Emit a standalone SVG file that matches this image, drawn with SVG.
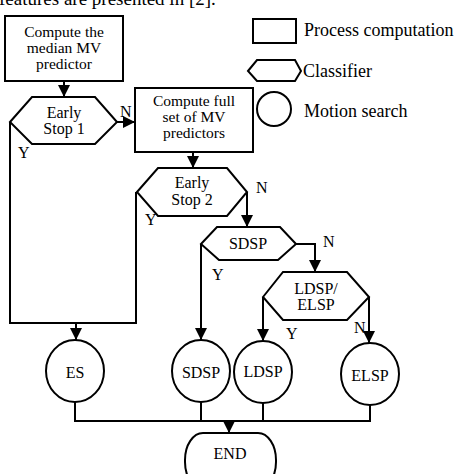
<svg xmlns="http://www.w3.org/2000/svg" width="474" height="474" viewBox="0 0 474 474">
<style>
.s{fill:#fff;stroke:#000;stroke-width:2}
.c{fill:none;stroke:#000;stroke-width:2}
text{font-family:"Liberation Serif","Times New Roman",serif;font-size:16px;fill:#000}
.m{text-anchor:middle}
.b{font-size:15.5px}
.lg{font-size:18px}
</style>
<defs>
<marker id="ah" markerUnits="userSpaceOnUse" markerWidth="12" markerHeight="12" refX="12" refY="6" orient="auto">
<path d="M0,0 L12,6 L0,12 z" fill="#000"/>
</marker>
</defs>
<rect width="474" height="474" fill="#fff"/>
<text x="-1" y="5" style="font-size:19px">features are presented in [2].</text>

<g id="connectors">
<path class="c" d="M64,81 V97" marker-end="url(#ah)"/>
<path class="c" d="M117,122 H135" marker-end="url(#ah)"/>
<path class="c" d="M193,152 V168" marker-end="url(#ah)"/>
<path class="c" d="M10,122 V323 H136 V192"/>
<path class="c" d="M76,323 V340" marker-end="url(#ah)"/>
<path class="c" d="M247,192 V227" marker-end="url(#ah)"/>
<path class="c" d="M201,244 V340" marker-end="url(#ah)"/>
<path class="c" d="M296,244 H315 V272" marker-end="url(#ah)"/>
<path class="c" d="M263,297 V341" marker-end="url(#ah)"/>
<path class="c" d="M369,297 V343" marker-end="url(#ah)"/>
<path class="c" d="M75,402 V421 H370 V405 M201,402 V421 M263,403 V421"/>
<path class="c" d="M229,421 V433" marker-end="url(#ah)"/>
<text x="120" y="117">N</text>
<text x="18" y="158">Y</text>
<text x="145" y="225">Y</text>
<text x="256" y="193">N</text>
<text x="212" y="280">Y</text>
<text x="323" y="247">N</text>
<text x="286" y="339">Y</text>
<text x="354" y="333">N</text>
</g>

<g id="median">
<rect class="s" x="5" y="16" width="118" height="65"/>
<text class="m b" x="64" y="37">Compute the</text>
<text class="m b" x="64" y="53">median MV</text>
<text class="m b" x="64" y="69">predictor</text>
</g>

<g id="es1">
<polygon class="s" points="10,122 32,97 95,97 117,122 95,144 32,144"/>
<text class="m" x="64" y="118">Early</text>
<text class="m" x="64" y="134">Stop 1</text>
</g>

<g id="full">
<rect class="s" x="135" y="88" width="118" height="64"/>
<text class="m b" x="194" y="106">Compute full</text>
<text class="m b" x="194" y="122">set of MV</text>
<text class="m b" x="194" y="138">predictors</text>
</g>

<g id="es2">
<polygon class="s" points="137,192 158,168 227,168 247,192 227,216 158,216"/>
<text class="m" x="192" y="188">Early</text>
<text class="m" x="192" y="205">Stop 2</text>
</g>

<g id="sdspc">
<polygon class="s" points="201,244 217,227 280,227 296,244 278,260 219,260"/>
<text class="m" x="248" y="249">SDSP</text>
</g>

<g id="ldelc">
<polygon class="s" points="263,297 283,272 347,272 369,297 347,320 283,320"/>
<text class="m" x="316" y="294">LDSP/</text>
<text class="m" x="316" y="310">ELSP</text>
</g>

<g id="ES">
<ellipse class="s" cx="75" cy="371" rx="29" ry="31"/>
<text class="m" x="75" y="378">ES</text>
</g>
<g id="SDSP">
<ellipse class="s" cx="201" cy="371" rx="29" ry="31"/>
<text class="m" x="201" y="378">SDSP</text>
</g>
<g id="LDSP">
<ellipse class="s" cx="263" cy="372" rx="29" ry="31"/>
<text class="m" x="263" y="377">LDSP</text>
</g>
<g id="ELSP">
<ellipse class="s" cx="370" cy="374" rx="29" ry="31"/>
<text class="m" x="370" y="381">ELSP</text>
</g>

<g id="END">
<rect class="s" x="185" y="433" width="91" height="56" rx="18" ry="27"/>
<text class="m" x="230" y="459">END</text>
</g>

<g id="legend">
<rect class="s" x="253" y="19" width="43" height="24"/>
<text class="lg" x="304" y="36">Process computation</text>
<polygon class="s" points="248,71 257,60 295,60 301,71 295,81 257,81"/>
<text class="lg" x="303" y="77">Classifier</text>
<circle class="s" cx="274" cy="109" r="17"/>
<text class="lg" x="304" y="117">Motion search</text>
</g>
</svg>
